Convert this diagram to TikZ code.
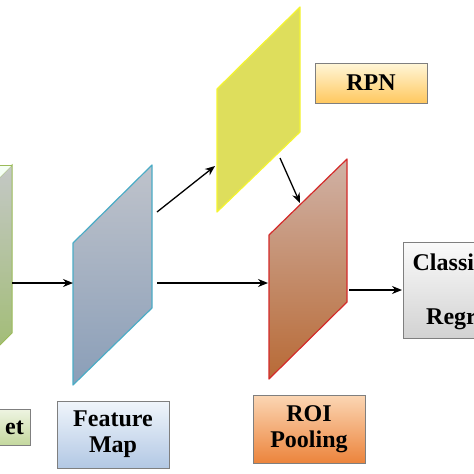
\documentclass[tikz,border=0pt]{standalone}
\usepackage{fontspec}
\setmainfont{Liberation Serif}
\usetikzlibrary{arrows.meta}
\definecolor{fmedge}{HTML}{4BACC6}
\definecolor{fmtop}{HTML}{BFC3CB}
\definecolor{fmbot}{HTML}{8A9EB8}
\definecolor{yfill}{HTML}{DEDE5C}
\definecolor{yedge}{HTML}{F4F430}
\definecolor{roitop}{HTML}{D0B2A6}
\definecolor{roibot}{HTML}{B86A36}
\definecolor{roiedge}{HTML}{D42A2A}
\definecolor{cubeedge}{HTML}{9BBB59}
\definecolor{cubetop}{HTML}{C4C8C6}
\definecolor{cubebot}{HTML}{A3BD78}
\definecolor{boxedge}{HTML}{7F7F7F}
\tikzset{
  lbl/.style={draw=boxedge, line width=0.9pt, inner sep=0pt},
  txt/.style={font=\bfseries\fontsize{24}{26}\selectfont, align=center, inner sep=0pt},
  arr/.style={-{Stealth[length=10pt,width=8pt]}, line width=1.3pt},
}
\begin{document}
\begin{tikzpicture}[x=1pt,y=-1pt]
\useasboundingbox (0,0) rectangle (474,474);

% green cube (partly visible)
\shade[top color=cubetop, bottom color=cubebot] (0,177) -- (12,165) -- (12,333) -- (0,345) -- cycle;
\draw[cubeedge, line width=1pt] (0,177) -- (12,165) -- (12,333) -- (0,345);
\fill[white!96!green] (0,165) -- (12,165) -- (0,177) -- cycle;
\draw[cubeedge, line width=1pt] (0,165) -- (12,165);

% feature map plane
\shade[top color=fmtop, bottom color=fmbot] (73,243) -- (152,165) -- (152,308) -- (73,385) -- cycle;
\draw[fmedge, line width=1.2pt, line join=round] (73,243) -- (152,165) -- (152,308) -- (73,385) -- cycle;

% RPN plane
\fill[yfill] (217,89) -- (300,7) -- (300,132) -- (217,212) -- cycle;
\draw[yedge, line width=1.2pt, line join=round] (217,89) -- (300,7) -- (300,132) -- (217,212) -- cycle;

% ROI plane
\shade[top color=roitop, bottom color=roibot] (269,235) -- (347,159) -- (347,302) -- (269,379) -- cycle;
\draw[roiedge, line width=1.2pt, line join=round] (269,235) -- (347,159) -- (347,302) -- (269,379) -- cycle;

% label boxes
\node[lbl, minimum width=112pt, minimum height=40pt, top color={rgb,255:red,255;green,246;blue,216}, bottom color={rgb,255:red,255;green,200;blue,95}, txt] (rpn) at (371,83) {RPN};
\node[lbl, minimum width=112pt, minimum height=67pt, top color={rgb,255:red,240;green,245;blue,251}, bottom color={rgb,255:red,178;green,200;blue,228}, txt] (fm) at (113,434.5) {Feature\\Map};
\node[lbl, minimum width=112pt, minimum height=68pt, top color={rgb,255:red,251;green,214;blue,180}, bottom color={rgb,255:red,236;green,132;blue,60}, txt] (roi) at (309,429) {ROI\\Pooling};
\node[lbl, minimum width=158pt, minimum height=96pt, top color={rgb,255:red,250;green,250;blue,250}, bottom color={rgb,255:red,210;green,210;blue,210}] (cls) at (482,290) {};
\node[txt] (clsA) at (482,262) {Classification};
\node[txt] (clsB) at (482,319) {Regression};
\node[lbl, minimum width=110pt, minimum height=36pt, top color={rgb,255:red,238;green,244;blue,226}, bottom color={rgb,255:red,196;green,216;blue,158}] (ds) at (-25,427) {};
\node[txt, anchor=east] (dsT) at (24,428) {et};

% connector end points
\coordinate (cubeR) at (12,283);
\coordinate (fmL) at (73,283);
\coordinate (fmR1) at (157,212);
\coordinate (yL) at (215,166);
\coordinate (fmR2) at (157,283);
\coordinate (roiL) at (268,283);
\coordinate (yB) at (280,158);
\coordinate (roiT) at (300,203);
\coordinate (roiR) at (349,290);
\coordinate (clsL) at (402,290);

\draw[arr] (cubeR) -- (fmL);
\draw[arr] (fmR1) -- (yL);
\draw[arr] (fmR2) -- (roiL);
\draw[arr] (yB) -- (roiT);
\draw[arr] (roiR) -- (clsL);
\end{tikzpicture}
\end{document}
